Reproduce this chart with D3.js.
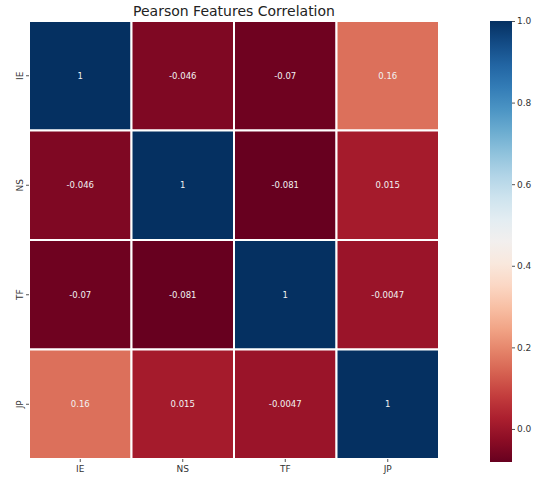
<!DOCTYPE html>
<html>
<head>
<meta charset="utf-8">
<script src="https://cdn.jsdelivr.net/npm/d3@7"></script>
<style>
  body { margin: 0; background: #fff; }
  text { font-family: "DejaVu Sans", sans-serif; }
</style>
</head>
<body>
<svg id="chart"></svg>
<script>
// correlation data
const features = ["IE", "NS", "TF", "JP"];
const rowIE = [1, -0.046, -0.07, 0.16];
const rowNS = [-0.046, 1, -0.081, 0.015];
const rowTF = [-0.07, -0.081, 1, -0.0047];
const rowJP = [0.16, 0.015, -0.0047, 1];
const cbTicks = [0, 0.2, 0.4, 0.6, 0.8, 1.0];
const vMin = -0.081, vMax = 1;

const width = 550, height = 486;
const svg = d3.select("#chart").attr("width", width).attr("height", height);

const mLeft = 29, mRight = 439, mTop = 21, mBottom = 459;

const x = d3.scaleBand().domain(features).range([mLeft, mRight]);
const y = d3.scaleBand().domain(features).range([mTop, mBottom]);
const color = d3.scaleSequential(d3.interpolateRdBu).domain([vMin, vMax]);

const rows = [rowIE, rowNS, rowTF, rowJP];
const cells = [];
rows.forEach((r, i) => r.forEach((v, j) => cells.push({row: features[i], col: features[j], value: v})));

svg.append("text")
  .attr("x", (mLeft + mRight) / 2)
  .attr("y", 16)
  .attr("text-anchor", "middle")
  .style("font-size", "14px")
  .attr("fill", "#222")
  .text("Pearson Features Correlation");

const cell = svg.append("g").selectAll("g").data(cells).enter().append("g");

cell.append("rect")
  .attr("x", d => x(d.col))
  .attr("y", d => y(d.row))
  .attr("width", x.bandwidth())
  .attr("height", y.bandwidth())
  .attr("fill", d => color(d.value))
  .attr("stroke", "white")
  .attr("stroke-width", 2);

cell.append("text")
  .attr("x", d => x(d.col) + x.bandwidth() / 2)
  .attr("y", d => y(d.row) + y.bandwidth() / 2)
  .attr("text-anchor", "middle")
  .attr("dy", "0.35em")
  .attr("fill", "#f2f2f2")
  .style("font-size", "8.5px")
  .text(d => d.value);

// axes
const xAxis = svg.append("g")
  .attr("transform", `translate(0,${mBottom})`)
  .call(d3.axisBottom(x).tickSize(3).tickPadding(4));
xAxis.select(".domain").remove();
xAxis.selectAll("text").style("font-size", "9px").attr("fill", "#333");
xAxis.selectAll("line").attr("stroke", "#555");

const yAxis = svg.append("g")
  .attr("transform", `translate(${mLeft},0)`)
  .call(d3.axisLeft(y).tickSize(3).tickPadding(4));
yAxis.select(".domain").remove();
yAxis.selectAll("line").attr("stroke", "#555");
yAxis.selectAll("text")
  .style("font-size", "9px")
  .attr("fill", "#333")
  .attr("text-anchor", "middle")
  .attr("x", 0)
  .attr("dy", 0)
  .attr("transform", "translate(-6,0) rotate(-90)");

// colorbar
const cbX = 490, cbW = 22;
const cbScale = d3.scaleLinear().domain([vMin, vMax]).range([462, 21]);

const grad = svg.append("defs").append("linearGradient")
  .attr("id", "cbgrad")
  .attr("x1", 0).attr("y1", 1).attr("x2", 0).attr("y2", 0);
d3.range(0, 1.0001, 0.05).forEach(t => {
  grad.append("stop")
    .attr("offset", t)
    .attr("stop-color", color(vMin + t * (vMax - vMin)));
});

svg.append("rect")
  .attr("x", cbX)
  .attr("y", cbScale(vMax))
  .attr("width", cbW)
  .attr("height", cbScale(vMin) - cbScale(vMax))
  .attr("fill", "url(#cbgrad)");

const cbAxis = svg.append("g")
  .attr("transform", `translate(${cbX + cbW},0)`)
  .call(d3.axisRight(cbScale).tickValues(cbTicks).tickFormat(d3.format(".1f")).tickSize(3).tickPadding(2));
cbAxis.select(".domain").remove();
cbAxis.selectAll("line").attr("stroke", "#555");
cbAxis.selectAll("text").style("font-size", "9px").attr("fill", "#333");
</script>
</body>
</html>
